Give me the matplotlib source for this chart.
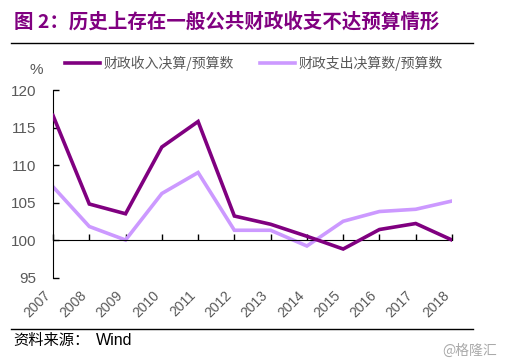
import matplotlib.pyplot as plt
from matplotlib.lines import Line2D

plt.rcParams['font.family'] = ['Noto Sans CJK SC', 'DejaVu Sans']

# Données
years = ['2007', '2008', '2009', '2010', '2011', '2012',
         '2013', '2014', '2015', '2016', '2017', '2018']
revenue = [116.6, 104.8, 103.5, 112.4, 115.8, 103.2,
           102.1, 100.5, 98.8, 101.4, 102.2, 100.0]
expense = [107.1, 101.8, 100.0, 106.2, 109.0, 101.3,
           101.3, 99.2, 102.5, 103.8, 104.1, 105.2]
yticks = [95, 100, 105, 110, 115, 120]

dark = '#800080'
light = '#CC99FF'
grey = '#595959'
num_font = 'Liberation Sans'

fig = plt.figure(figsize=(5.05, 3.63), dpi=100)
ax = fig.add_axes([0.105, 0.2355, 0.79, 0.5165])

x = list(range(len(years)))
ax.plot(x, revenue, color=dark, lw=2.6, solid_joinstyle='miter', zorder=3)
ax.plot(x, expense, color=light, lw=2.6, solid_joinstyle='miter', zorder=2)

ax.set_xlim(0, len(years) - 1)
ax.set_ylim(95, 120)
ax.set_yticks(yticks)
ax.set_yticklabels([str(v) for v in yticks], family=num_font)
ax.tick_params(axis='y', direction='in', length=4, width=1, colors='black',
               labelcolor=grey, labelsize=11, pad=12)

# axe des abscisses à 100
ax.spines['top'].set_visible(False)
ax.spines['right'].set_visible(False)
ax.spines['bottom'].set_position(('data', 100))
ax.set_xticks(x)
ax.set_xticklabels([])
ax.tick_params(axis='x', direction='in', length=4, width=1)
for i, yr in enumerate(years):
    ax.text(i, 93.6, yr, rotation=45, ha='right', va='top',
            fontsize=10, color=grey, family=num_font)

# Légende
handles = [Line2D([], [], color=dark, lw=2.6), Line2D([], [], color=light, lw=2.6)]
fig.legend(handles, ['财政收入决算/预算数', '财政支出决算数/预算数'],
           loc='center left', bbox_to_anchor=(0.129, 0.826), ncol=2,
           frameon=False, fontsize=10, handlelength=2.5, handletextpad=0.25,
           columnspacing=1.9, labelcolor=grey, borderpad=0, borderaxespad=0)
fig.text(0.058, 0.806, '%', fontsize=11, color=grey, ha='left', va='center',
         family=num_font)

# Titre et source
fig.text(0.028, 0.94, '图 2：历史上存在一般公共财政收支不达预算情形',
         fontsize=14, color=dark, fontweight='bold', va='center')
fig.add_artist(Line2D([0.022, 0.937], [0.882, 0.882], color='black', lw=1))
fig.add_artist(Line2D([0.022, 0.937], [0.094, 0.094], color='black', lw=1))
fig.text(0.026, 0.063, '资料来源：', fontsize=11, color='black', va='center')
fig.text(0.19, 0.063, 'Wind', fontsize=11.5, color='black', va='center',
         family=num_font)
fig.text(0.985, 0.035, '@格隆汇', fontsize=10, color='#aaaaaa', ha='right', va='center')

fig.savefig('out.png', dpi=100)
